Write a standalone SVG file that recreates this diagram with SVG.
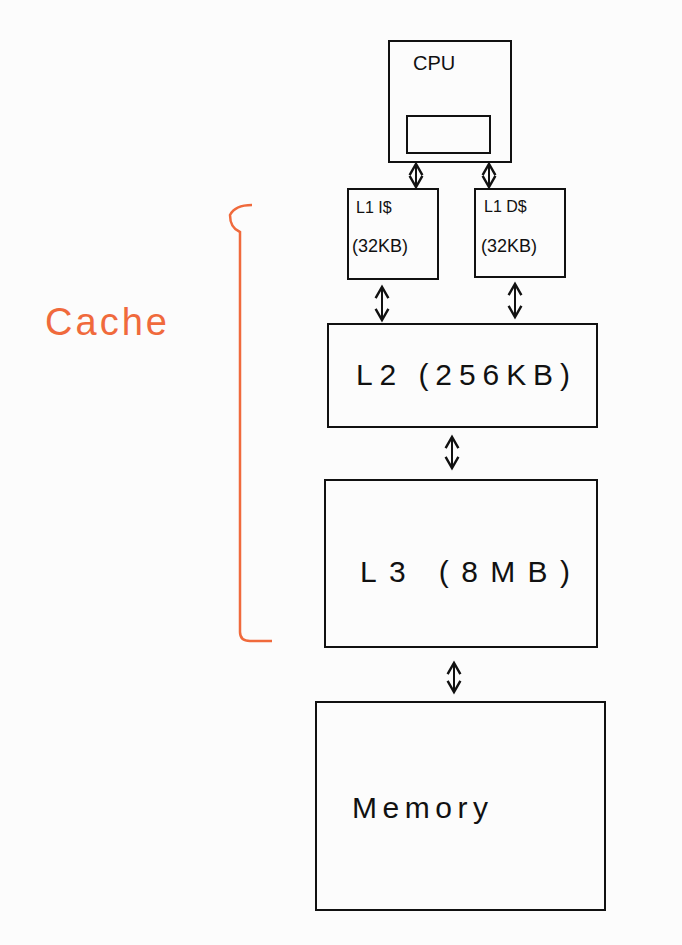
<svg xmlns="http://www.w3.org/2000/svg" width="682" height="945" viewBox="0 0 682 945">
<defs>
<marker id="ah" viewBox="0 0 10 10" refX="8" refY="5" markerWidth="8" markerHeight="8" orient="auto-start-reverse"><path d="M1,1 L8,5 L1,9" fill="none" stroke="#111" stroke-width="1.5"/></marker>
</defs>
<style>
.box{fill:none;stroke:#111;stroke-width:2}
.t{font-family:"Comic Sans MS","Liberation Sans",sans-serif;fill:#111}
.c{stroke:#111;stroke-width:2;fill:none;marker-start:url(#ah);marker-end:url(#ah)}
</style>
<rect width="682" height="945" fill="#fcfcfc"/>
<g id="cpu"><rect class="box" x="389" y="41" width="122" height="121"/><rect class="box" x="407" y="116" width="83" height="37"/><text class="t" x="413" y="70" font-size="20">CPU</text></g>
<g id="l1i"><rect class="box" x="348" y="189" width="90" height="90"/><text class="t" x="356" y="213" font-size="16">L1 I$</text><text class="t" x="352" y="252" font-size="18">(32KB)</text></g>
<g id="l1d"><rect class="box" x="475" y="189" width="90" height="88"/><text class="t" x="484" y="212" font-size="16">L1 D$</text><text class="t" x="481" y="252" font-size="18">(32KB)</text></g>
<g id="l2"><rect class="box" x="328" y="324" width="269" height="103"/><text class="t" x="356" y="385" font-size="30" textLength="214">L2 (256KB)</text></g>
<g id="l3"><rect class="box" x="325" y="480" width="272" height="167"/><text class="t" x="360" y="582" font-size="30" textLength="210">L3 (8MB)</text></g>
<g id="memory"><rect class="box" x="316" y="702" width="289" height="208"/><text class="t" x="352" y="818" font-size="30" textLength="136">Memory</text></g>
<g id="cache"><path d="M252,205 Q235,205 230,215 Q230,228 240,232 L240,632 Q240,641 250,641 L272,641" fill="none" stroke="#f06a3c" stroke-width="2.5"/><text x="45" y="335" font-family="Comic Sans MS,Liberation Sans,sans-serif" font-size="38" fill="#f06a3c" textLength="122">Cache</text></g>
<g id="connectors">
<line class="c" x1="416" y1="164" x2="416" y2="187"/>
<line class="c" x1="489" y1="164" x2="489" y2="187"/>
<line class="c" x1="382" y1="287" x2="382" y2="320"/>
<line class="c" x1="515" y1="284" x2="515" y2="317"/>
<line class="c" x1="452" y1="437" x2="452" y2="468"/>
<line class="c" x1="454" y1="663" x2="454" y2="692"/>
</g>
</svg>
